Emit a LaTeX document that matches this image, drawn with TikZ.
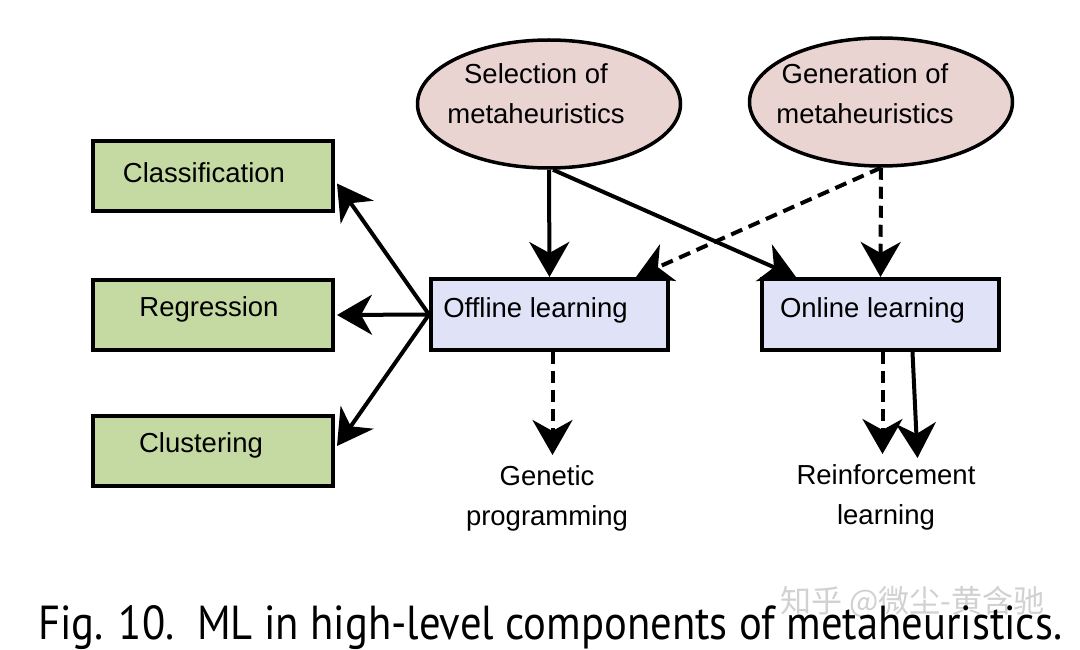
\documentclass[tikz,border=0pt]{standalone}
\usepackage{fontspec}
\setmainfont{Liberation Sans}
\newfontfamily\capfont{PT Sans}
\newfontfamily\cjkfont{Noto Sans CJK SC}
\usetikzlibrary{shapes.geometric,arrows.meta,calc}
\definecolor{pinkF}{RGB}{234,212,210}
\definecolor{greenF}{RGB}{197,218,162}
\definecolor{lavF}{RGB}{224,226,248}
\begin{document}
\begin{tikzpicture}[x=1pt,y=-1pt,
  every node/.style={font=\fontsize{27.5}{40}\selectfont},
  ell/.style={ellipse, draw, line width=3.5pt, fill=pinkF, minimum width=263pt, minimum height=128pt, inner sep=0pt},
  gbox/.style={rectangle, draw, line width=4pt, fill=greenF, minimum width=240pt, minimum height=70pt, inner sep=0pt},
  lbox/.style={rectangle, draw, line width=4pt, fill=lavF, minimum width=237pt, minimum height=71pt, inner sep=0pt},
  txt/.style={align=center, inner sep=0pt},
  con/.style={line width=4pt, -{Stealth[length=35pt,width=40pt,inset=11pt]}},
  dcon/.style={con, dash pattern=on 12pt off 7pt},
]
\useasboundingbox (0,0) rectangle (1080,650);
\fill[white] (0,0) rectangle (1080,650);

% ellipses
\node[ell] (sel) at (549,104) {};
\node[txt] (selT) at (536,94) {Selection of\\metaheuristics};
\node[ell] (gen) at (881,102) {};
\node[txt] (genT) at (865,94) {Generation of\\metaheuristics};

% left boxes
\node[gbox, label={[txt,xshift=-9pt,yshift=4pt]center:Classification}] (cls) at (213,176.5) {};
\node[gbox, label={[txt,xshift=-4pt,yshift=6pt]center:Regression}] (reg) at (213,315) {};
\node[gbox, label={[txt,xshift=-12pt,yshift=6pt]center:Clustering}] (clu) at (213,451) {};

% learning boxes
\node[lbox, label={[txt,xshift=-14pt,yshift=4pt]center:Offline learning}] (off) at (549.5,314.5) {};
\node[lbox, label={[txt,xshift=-8pt,yshift=4pt]center:Online learning}] (onl) at (880.5,314.5) {};

% bottom texts
\node[txt] (gp) at (547,498) {Genetic\\programming};
\node[txt] (rl) at (886,497) {Reinforcement\\learning};

% connectors
\draw[con] (off.west) -- ($(cls.east)+(2,7)$);
\draw[con] (off.west) -- ($(reg.east)+(2,0)$);
\draw[con] (off.west) -- ($(clu.east)+(2,-5)$);
\draw[con] (sel.south) -- (off.north);
\draw[con] ($(sel.south)+(4,0)$) -- ($(onl.north west)+(36,0)$);
\draw[dcon] (gen.south) -- ($(off.north east)+(-34,0)$);
\draw[dcon] (gen.south) -- (onl.north);
\draw[dcon] ($(off.south)+(3,0)$) -- ($(off.south |- gp.north)+(3,-10)$);
\draw[dcon] ($(onl.south)+(2,0)$) -- ($(onl.south |- rl.north)+(2,-10)$);
\draw[con] ($(onl.south)+(32,0)$) -- ($(onl.south |- rl.north)+(37,-6)$);

% watermark
\node[inner sep=0pt, anchor=base west, text=black!18, font=\cjkfont\fontsize{31}{34}\selectfont] (wm) at (780,612) {知乎 @微尘-黄含驰};

% caption
\node[inner sep=0pt, anchor=base west] (cap) at (38,639) {\scalebox{1}[1.12]{\resizebox{1024pt}{!}{\capfont Fig. 10.\ \ ML in high-level components of metaheuristics.}}};
\end{tikzpicture}
\end{document}
